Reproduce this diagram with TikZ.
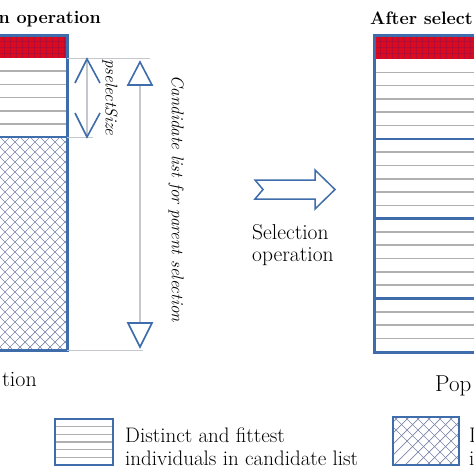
\documentclass[tikz,border=0pt]{standalone}
\usetikzlibrary{patterns}
\definecolor{boxblue}{HTML}{3F6CAA}
\definecolor{rowgray}{HTML}{B0B0B0}
\definecolor{guidegray}{HTML}{C4C8CC}
\definecolor{hatchc}{HTML}{7A84A8}
\definecolor{redband}{HTML}{DC0A1E}
\definecolor{redgrid}{HTML}{8C1050}
\begin{document}
\begin{tikzpicture}[x=1pt,y=-1pt,
  boxline/.style={draw=boxblue,line width=3pt},
  sepline/.style={draw=boxblue,line width=2.6pt},
  rowline/.style={draw=rowgray,line width=1.6pt},
  guide/.style={draw=guidegray,line width=1pt},
  hatchline/.style={draw=hatchc,line width=0.7pt},
  gridline/.style={draw=redgrid,line width=1pt,opacity=0.45},
  arrowblue/.style={draw=boxblue,line width=1.6pt,line join=miter},
  titlefont/.style={font=\bfseries\fontsize{18}{21}\selectfont},
  bigfont/.style={font=\fontsize{22}{26}\selectfont},
  midfont/.style={font=\fontsize{21.5}{25}\selectfont},
  legfont/.style={font=\fontsize{21}{25}\selectfont},
  rotfont/.style={font=\itshape\fontsize{17}{20}\selectfont}]
\useasboundingbox (0,0) rectangle (474,474);
\clip (0,0) rectangle (474,474);

% ---------- left box ----------
\coordinate (Lnw) at (-80,35);
\coordinate (Lse) at (67,350);
\fill[redband] (-80,35) rectangle (67,58);
\foreach \x in {-80,-74,...,67} \draw[gridline] (\x,35) -- (\x,58);
\foreach \y in {41,47,53} \draw[gridline] (-80,\y) -- (67,\y);
\foreach \y in {71.2,84.3,97.5,110.7,123.8} \draw[rowline] (-80,\y) -- (67,\y);
\begin{scope}
  \clip (-80,137) rectangle (67,350);
  \foreach \k in {-40,...,20} {
    \draw[hatchline] ({\k*10},137) -- ++(230,230);
    \draw[hatchline] ({\k*10+250},137) -- ++(-230,230);
  }
\end{scope}
\draw[sepline] (-80,137) -- (67,137);
\draw[boxline] (Lnw) rectangle (Lse);

% ---------- guides and arrows ----------
\coordinate (g1a) at (67,58);   \coordinate (g1b) at (150,58);
\coordinate (g2a) at (67,137);  \coordinate (g2b) at (93,137);
\coordinate (g3a) at (67,350);  \coordinate (g3b) at (143,350);
\draw[guide] (g1a) -- (g1b);
\draw[guide] (g2a) -- (g2b);
\draw[guide] (g3a) -- (g3b);

\coordinate (ptop) at (87,59);
\coordinate (pbot) at (87,137);
\draw[guide,line width=1.4pt] (ptop) -- (pbot);
\draw[arrowblue] (75,83) -- (ptop) -- (100,83);
\draw[arrowblue] (75,113) -- (pbot) -- (100,113);
\node[rotfont,rotate=-90] (psel) at (110,97.5) {pselectSize};

\coordinate (ctop) at (140,85);
\coordinate (cbot) at (140,323);
\draw[guide,line width=1.2pt] (ctop) -- (cbot);
\draw[arrowblue,fill=white] (128,85) -- (140,62) -- (152,85) -- cycle;
\draw[arrowblue,fill=white] (128,323) -- (140,347) -- (152,323) -- cycle;
\node[rotfont,rotate=-90] (cand) at (176,199) {Candidate list for parent selection};

% ---------- selection arrow ----------
\draw[arrowblue,fill=white,line width=1.5pt] (255,180) -- (315,180) -- (315,170) -- (335,189.5)
  -- (315,209) -- (315,199) -- (255,199) -- (263,189.5) -- cycle;
\node[midfont,anchor=base west,inner sep=0pt] (sel1) at (252,239) {Selection};
\node[midfont,anchor=base west,inner sep=0pt] (sel2) at (252,261) {operation};

% ---------- right box ----------
\coordinate (Rnw) at (374,35);
\coordinate (Rse) at (560,352);
\fill[redband] (374,35) rectangle (560,59);
\foreach \x in {374,380,...,560} \draw[gridline] (\x,35) -- (\x,59);
\foreach \y in {41,47,53} \draw[gridline] (374,\y) -- (560,\y);
\foreach \i in {1,...,21} {
  \pgfmathsetmacro{\yy}{59+13.3*\i}
  \draw[rowline] (374,\yy) -- (560,\yy);
}
\foreach \y in {138.8,218.6,298.4} \draw[sepline] (374,\y) -- (560,\y);
\draw[boxline] (Rnw) rectangle (Rse);

% ---------- titles and captions ----------
\node[titlefont,anchor=base east,inner sep=0pt] (t1) at (101,23) {n operation};
\node[titlefont,anchor=base west,inner sep=0pt] (t2) at (370,24) {After select};
\node[bigfont,anchor=base east,inner sep=0pt] (c1) at (37,386) {tion};
\node[bigfont,anchor=base west,inner sep=0pt,font=\fontsize{23}{27}\selectfont] (c2) at (435,391) {Pop};

% ---------- legend ----------
\foreach \y in {426.7,434.3,442,449.7,457.3} \draw[rowgray,line width=1.1pt] (55.7,\y) -- (112.3,\y);
\draw[draw=boxblue,line width=1.3pt] (55,419) rectangle (113,465);
\node[legfont,anchor=base west,inner sep=0pt] (l1) at (125,442) {Distinct and fittest};
\node[legfont,anchor=base west,inner sep=0pt] (l2) at (125,465) {individuals in candidate list};

\begin{scope}
  \clip (393,417) rectangle (459,465);
  \foreach \k in {0,...,14} {
    \draw[hatchline] ({383+\k*11},417) -- ++(60,60);
    \draw[hatchline] ({403+\k*11-60},417) -- ++(-60,60);
  }
\end{scope}
\draw[draw=boxblue,line width=1.3pt] (393,417) rectangle (459,465);
\node[legfont,anchor=base west,inner sep=0pt] (r1) at (469,442) {D};
\node[legfont,anchor=base west,inner sep=0pt] (r2) at (469,465) {i};
\end{tikzpicture}
\end{document}
